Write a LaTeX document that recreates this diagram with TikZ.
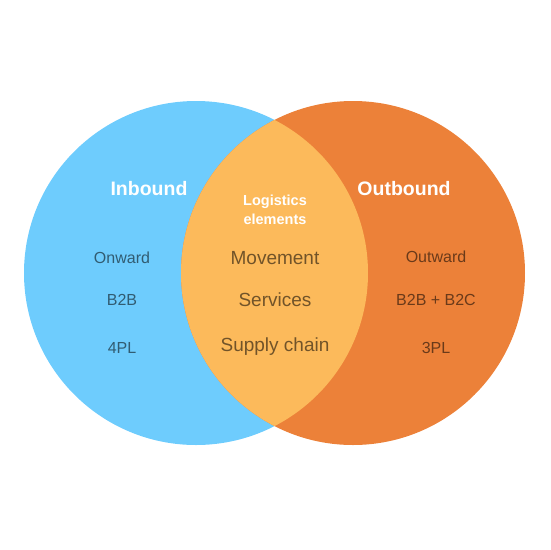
\documentclass[tikz,border=0pt]{standalone}
\usepackage{fontspec}
\setmainfont{Liberation Sans}
\definecolor{cblue}{HTML}{6ECCFD}
\definecolor{corange}{HTML}{EC8139}
\definecolor{clens}{HTML}{FCBA5B}
\begin{document}
\begin{tikzpicture}[x=1pt,y=-1pt,
  head/.style={text=white,font=\bfseries\fontsize{19.5}{22}\selectfont,inner sep=0pt},
  sub/.style={text=white,font=\bfseries\fontsize{14.5}{18.5}\selectfont,align=center,inner sep=0pt},
  item/.style={text=black,text opacity=0.55,font=\fontsize{16}{19}\selectfont,inner sep=0pt},
  citem/.style={text=black,text opacity=0.55,font=\fontsize{19}{22}\selectfont,inner sep=0pt}]
\useasboundingbox (0,0) rectangle (550,550);
\fill[cblue] (196,273) circle (172);
\fill[corange] (353,273) circle (172);
\begin{scope}
  \clip (196,273) circle (172);
  \fill[clens] (353,273) circle (172);
\end{scope}
\node[head] (in) at (149,189) {Inbound};
\node[head] (out) at (404,189) {Outbound};
\node[sub] (le) at (275,210) {Logistics\\elements};
\node[item] (on) at (122,258) {Onward};
\node[item] (b2b) at (122,300) {B2B};
\node[item] (fpl) at (122,348) {4PL};
\node[citem] (mv) at (275,258) {Movement};
\node[citem] (sv) at (275,300) {Services};
\node[citem] (sc) at (275,347) {Supply chain};
\node[item] (ow) at (436,257) {Outward};
\node[item] (bb) at (436,300) {B2B + B2C};
\node[item] (tpl) at (436,348) {3PL};
\end{tikzpicture}
\end{document}
